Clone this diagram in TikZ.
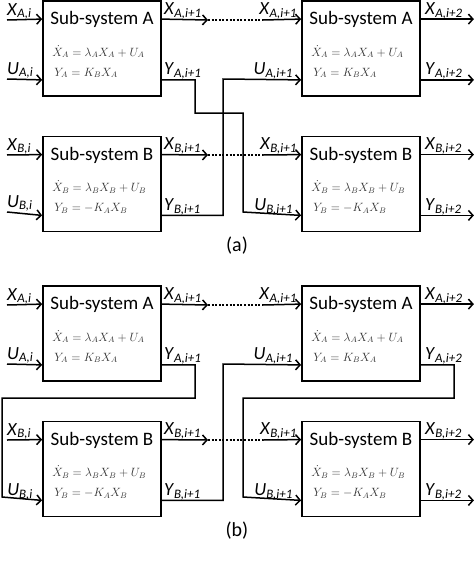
\documentclass[tikz,border=0pt]{standalone}
\usepackage{fontspec}
\setmainfont{Carlito}
\usetikzlibrary{arrows.meta,calc}
\definecolor{eqgray}{gray}{0.2}
\newcommand\lbl[2]{\textit{#1}\textsubscript{\textit{#2}}}
\tikzset{
  sysbox/.style={draw,line width=1.8pt,minimum width=118pt,minimum height=95pt,inner sep=0pt},
  conn/.style={line width=1.5pt},
  arr/.style={conn,-{Straight Barb[length=4.5pt,width=10pt,line width=1.5pt]}},
  dots/.style={line width=1.5pt,dash pattern=on 2pt off 1.6pt},
  lab/.style={inner sep=0pt,font=\fontsize{18.5}{20}\selectfont},
  title/.style={inner sep=0pt,font=\fontsize{19}{21}\selectfont},
  eq/.style={inner sep=0pt,anchor=base west,text=eqgray,font=\fontsize{12}{14}\selectfont},
  captext/.style={inner sep=0pt,font=\fontsize{20}{22}\selectfont}
}
\begin{document}
\begin{tikzpicture}[x=1pt,y=-1pt]
\useasboundingbox (0,0) rectangle (474,565);
% ---------- boxes ----------
\foreach \p/\off in {a/0,b/285}{
  \node[sysbox] (A\p1) at (102,48.5+\off) {};
  \node[sysbox] (A\p2) at (361,48.5+\off) {};
  \node[sysbox] (B\p1) at (102,184+\off) {};
  \node[sysbox] (B\p2) at (361,184+\off) {};
}
\foreach \b in {Aa1,Aa2,Ab1,Ab2}{
  \node[title] at ([yshift=-19pt]\b.north) {Sub-system A};
  \node[eq] at ([xshift=10pt,yshift=-56pt]\b.north west) {$\dot X_A=\lambda_A X_A+U_A$};
  \node[eq] at ([xshift=12pt,yshift=-76pt]\b.north west) {$Y_A=K_B X_A$};
}
\foreach \b in {Ba1,Ba2,Bb1,Bb2}{
  \node[title] at ([yshift=-20pt]\b.north) {Sub-system B};
  \node[eq] at ([xshift=10pt,yshift=-56pt]\b.north west) {$\dot X_B=\lambda_B X_B+U_B$};
  \node[eq] at ([xshift=12pt,yshift=-76pt]\b.north west) {$Y_B=-K_A X_B$};
}
\foreach \b in {Aa1,Aa2,Ba1,Ba2,Ab1,Ab2,Bb1,Bb2}{
  \coordinate (\b-xi) at ([yshift=-19pt]\b.north west);
  \coordinate (\b-ui) at ([yshift=17pt]\b.south west);
  \coordinate (\b-xo) at ([yshift=-19pt]\b.north east);
  \coordinate (\b-yo) at ([yshift=17pt]\b.south east);
}
% ---------- panel (a) ----------
\coordinate (a1s) at (7,20);   \coordinate (a2s) at (7,79);
\coordinate (a3s) at (7,155);  \coordinate (a4s) at (7,212);
\draw[arr] (a1s) -- (Aa1-xi);
\draw[arr] (a2s) -- (Aa1-ui);
\draw[arr] (a3s) -- (Ba1-xi);
\draw[arr] (a4s) -- (Ba1-ui);
\node[lab,anchor=base west] at ([yshift=5pt]a1s) {\lbl{X}{A,i}};
\node[lab,anchor=base west] at ([yshift=5pt]a2s) {\lbl{U}{A,i}};
\node[lab,anchor=base west] at ([yshift=5pt]a3s) {\lbl{X}{B,i}};
\node[lab,anchor=base west] at ([yshift=5pt]a4s) {\lbl{U}{B,i}};
% X pass-through
\coordinate (ax1) at (208,20);  \coordinate (ax2) at (263,20);
\coordinate (bx1) at (208,155); \coordinate (bx2) at (263,155);
\draw[arr] (Aa1-xo) -- (ax1);
\draw[dots] (ax1) -- (ax2);
\draw[arr] (ax2) -- (Aa2-xi);
\draw[arr] (Ba1-xo) -- (bx1);
\draw[dots] (bx1) -- (bx2);
\draw[arr] (bx2) -- (Ba2-xi);
% Y cross connections
\draw[arr] (Aa1-yo) -| (195,113) -| (243,212) -- (Ba2-ui);
\draw[arr] (Ba1-yo) -| (223,79) -- (Aa2-ui);
% outputs
\draw[arr] (Aa2-xo) -- ++(53,0) coordinate (ao1);
\draw[arr] (Aa2-yo) -- ++(53,0) coordinate (ao2);
\draw[arr] (Ba2-xo) -- ++(53,0) coordinate (ao3);
\draw[arr] (Ba2-yo) -- ++(53,0) coordinate (ao4);
% labels (a)
\node[lab,anchor=base west] at ([xshift=2pt,yshift=5pt]Aa1-xo) {\lbl{X}{A,i+1}};
\node[lab,anchor=base west] at ([xshift=2pt,yshift=5pt]Aa1-yo) {\lbl{Y}{A,i+1}};
\node[lab,anchor=base west] at ([xshift=2pt,yshift=5pt]Ba1-xo) {\lbl{X}{B,i+1}};
\node[lab,anchor=base west] at ([xshift=2pt,yshift=5pt]Ba1-yo) {\lbl{Y}{B,i+1}};
\node[lab,anchor=base east] at ([xshift=-4pt,yshift=5pt]Aa2-xi) {\lbl{X}{A,i+1}};
\node[lab,anchor=base east] at ([xshift=-8pt,yshift=5pt]Aa2-ui) {\lbl{U}{A,i+1}};
\node[lab,anchor=base east] at ([xshift=-4pt,yshift=5pt]Ba2-xi) {\lbl{X}{B,i+1}};
\node[lab,anchor=base east] at ([xshift=-8pt,yshift=5pt]Ba2-ui) {\lbl{U}{B,i+1}};
\node[lab,anchor=base west] at ([xshift=4pt,yshift=5pt]Aa2-xo) {\lbl{X}{A,i+2}};
\node[lab,anchor=base west] at ([xshift=4pt,yshift=5pt]Aa2-yo) {\lbl{Y}{A,i+2}};
\node[lab,anchor=base west] at ([xshift=4pt,yshift=5pt]Ba2-xo) {\lbl{X}{B,i+2}};
\node[lab,anchor=base west] at ([xshift=4pt,yshift=5pt]Ba2-yo) {\lbl{Y}{B,i+2}};
\node[captext] (capa) at (237,246) {(a)};
% ---------- panel (b) ----------
\coordinate (b1s) at (7,305);  \coordinate (b2s) at (7,364);
\coordinate (b3s) at (7,440);
\draw[arr] (b1s) -- (Ab1-xi);
\draw[arr] (b2s) -- (Ab1-ui);
\draw[arr] (b3s) -- (Bb1-xi);
\node[lab,anchor=base west] at ([yshift=5pt]b1s) {\lbl{X}{A,i}};
\node[lab,anchor=base west] at ([yshift=5pt]b2s) {\lbl{U}{A,i}};
\node[lab,anchor=base west] at ([yshift=5pt]b3s) {\lbl{X}{B,i}};
\node[lab,anchor=base west] at ([xshift=-35pt,yshift=5pt]Bb1-ui) {\lbl{U}{B,i}};
\coordinate (cx1) at (208,305); \coordinate (cx2) at (263,305);
\coordinate (dx1) at (208,440); \coordinate (dx2) at (263,440);
\draw[arr] (Ab1-xo) -- (cx1);
\draw[dots] (cx1) -- (cx2);
\draw[arr] (cx2) -- (Ab2-xi);
\draw[arr] (Bb1-xo) -- (dx1);
\draw[dots] (dx1) -- (dx2);
\draw[arr] (dx2) -- (Bb2-xi);
% serial connections
\draw[arr] (Ab1-yo) -| (195,398) -| (2,497) -- (Bb1-ui);
\draw[arr] (Bb1-yo) -| (223,364) -- (Ab2-ui);
\draw[arr] (Ab2-yo) -| (454,398) -| (243,497) -- (Bb2-ui);
% outputs
\draw[arr] (Ab2-xo) -- ++(53,0) coordinate (bo1);
\draw[arr] (Bb2-xo) -- ++(53,0) coordinate (bo3);
\draw[arr] (Bb2-yo) -- ++(53,0) coordinate (bo4);
% labels (b)
\node[lab,anchor=base west] at ([xshift=2pt,yshift=5pt]Ab1-xo) {\lbl{X}{A,i+1}};
\node[lab,anchor=base west] at ([xshift=2pt,yshift=5pt]Ab1-yo) {\lbl{Y}{A,i+1}};
\node[lab,anchor=base west] at ([xshift=2pt,yshift=5pt]Bb1-xo) {\lbl{X}{B,i+1}};
\node[lab,anchor=base west] at ([xshift=2pt,yshift=5pt]Bb1-yo) {\lbl{Y}{B,i+1}};
\node[lab,anchor=base east] at ([xshift=-4pt,yshift=5pt]Ab2-xi) {\lbl{X}{A,i+1}};
\node[lab,anchor=base east] at ([xshift=-8pt,yshift=5pt]Ab2-ui) {\lbl{U}{A,i+1}};
\node[lab,anchor=base east] at ([xshift=-4pt,yshift=5pt]Bb2-xi) {\lbl{X}{B,i+1}};
\node[lab,anchor=base east] at ([xshift=-8pt,yshift=5pt]Bb2-ui) {\lbl{U}{B,i+1}};
\node[lab,anchor=base west] at ([xshift=4pt,yshift=5pt]Ab2-xo) {\lbl{X}{A,i+2}};
\node[lab,anchor=base west] at ([xshift=4pt,yshift=5pt]Ab2-yo) {\lbl{Y}{A,i+2}};
\node[lab,anchor=base west] at ([xshift=4pt,yshift=5pt]Bb2-xo) {\lbl{X}{B,i+2}};
\node[lab,anchor=base west] at ([xshift=4pt,yshift=5pt]Bb2-yo) {\lbl{Y}{B,i+2}};
\node[captext] (capb) at (237,531) {(b)};
\end{tikzpicture}
\end{document}
